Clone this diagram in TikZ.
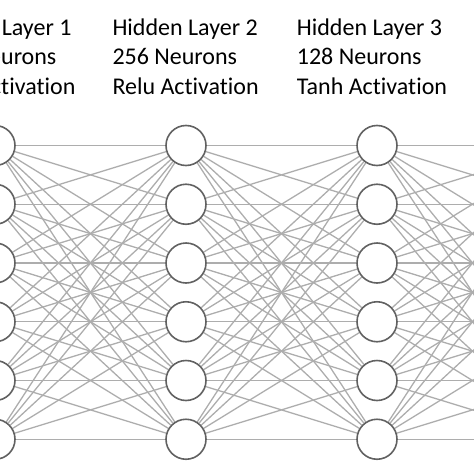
\documentclass[tikz,border=0pt]{standalone}
\usepackage{fontspec}
\setmainfont{Carlito}[Ligatures={NoCommon}]
\usetikzlibrary{backgrounds}
\begin{document}
\begin{tikzpicture}[x=1pt,y=-1pt,
  neuron/.style={circle,draw=black!62,line width=1.6pt,fill=white,minimum size=40pt,inner sep=0pt},
  conn/.style={draw=black!32,line width=1.3pt},
  lbl/.style={anchor=base west,inner sep=0pt,font=\fontsize{24}{29}\selectfont,text=black}]
\useasboundingbox (0,0) rectangle (474,474);
\clip (0,0) rectangle (474,474);
\foreach \c/\x in {1/-5,2/186,3/377,4/568}{
  \foreach \r in {1,...,6}{
    \node[neuron] (n-\c-\r) at (\x,{145.5+58.75*(\r-1)}) {};
  }
}
\begin{pgfonlayer}{background}
\foreach \c/\d in {1/2,2/3,3/4}{
  \foreach \i in {1,...,6}{
    \foreach \j in {1,...,6}{
      \draw[conn] (n-\c-\i) -- (n-\d-\j);
    }
  }
}
\end{pgfonlayer}
\node[lbl] (t1a) at (-74,35) {Hidden Layer 1};
\node[lbl] (t1b) at (-26.5,64.5) {Neurons};
\node[lbl] (t1c) at (-23,94.5) {Activation};
\node[lbl] (t2a) at (112.3,35) {Hidden Layer 2};
\node[lbl] (t2b) at (112.3,64.5) {256 Neurons};
\node[lbl] (t2c) at (112.3,94.5) {Relu Activation};
\node[lbl] (t3a) at (296.7,35) {Hidden Layer 3};
\node[lbl] (t3b) at (296.7,64.5) {128 Neurons};
\node[lbl] (t3c) at (296.7,94.5) {Tanh Activation};
\end{tikzpicture}
\end{document}
